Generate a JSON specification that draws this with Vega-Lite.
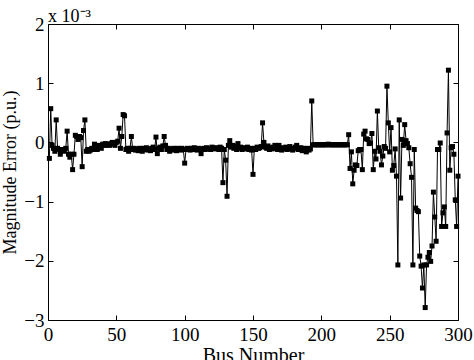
{
  "$schema": "https://vega.github.io/schema/vega-lite/v6.json",
  "width": 410,
  "height": 296,
  "autosize": "none",
  "padding": {"left": 48, "top": 24, "right": 16, "bottom": 40},
  "background": "white",
  "title": {"text": "x 10⁻³", "anchor": "start", "frame": "group", "font": "Liberation Serif", "fontSize": 18, "fontWeight": "normal", "color": "black", "offset": 3, "dy": 14},
  "config": {
    "view": {"stroke": "black", "strokeWidth": 1},
    "axis": {
      "domain": false, "grid": false, "ticks": true, "tickColor": "black", "tickSize": -5, "tickWidth": 1, "labelFlush": false,
      "labelFont": "Liberation Serif", "labelFontSize": 19, "labelColor": "black",
      "titleFont": "Liberation Serif", "titleFontSize": 19, "titleFontWeight": "normal", "titleColor": "black"
    }
  },
  "data": {"values": [
    {"bus":1,"err":-0.27},{"bus":2,"err":0.57},{"bus":3,"err":-0.05},{"bus":4,"err":-0.1},{"bus":5,"err":-0.15},
    {"bus":6,"err":0.38},{"bus":7,"err":-0.1},{"bus":8,"err":-0.12},{"bus":9,"err":-0.2},{"bus":10,"err":-0.13},
    {"bus":11,"err":-0.12},{"bus":12,"err":-0.15},{"bus":13,"err":-0.1},{"bus":14,"err":0.19},{"bus":15,"err":-0.2},
    {"bus":16,"err":-0.25},{"bus":17,"err":-0.2},{"bus":18,"err":-0.46},{"bus":19,"err":-0.2},{"bus":20,"err":0.12},
    {"bus":21,"err":0.1},{"bus":22,"err":0.05},{"bus":23,"err":0.1},{"bus":24,"err":0.08},{"bus":25,"err":-0.41},
    {"bus":26,"err":0.2},{"bus":27,"err":0.38},{"bus":28,"err":-0.15},{"bus":29,"err":-0.12},{"bus":30,"err":-0.15},
    {"bus":31,"err":-0.13},{"bus":32,"err":-0.1},{"bus":33,"err":-0.12},{"bus":34,"err":-0.03},{"bus":35,"err":-0.1},
    {"bus":36,"err":-0.12},{"bus":37,"err":-0.05},{"bus":38,"err":-0.07},{"bus":39,"err":-0.1},{"bus":40,"err":-0.03},
    {"bus":41,"err":-0.05},{"bus":42,"err":-0.02},{"bus":43,"err":-0.05},{"bus":44,"err":-0.03},{"bus":45,"err":-0.05},
    {"bus":46,"err":-0.02},{"bus":47,"err":0.0},{"bus":48,"err":-0.03},{"bus":49,"err":-0.05},{"bus":50,"err":0.0},
    {"bus":51,"err":0.02},{"bus":52,"err":0.24},{"bus":53,"err":-0.1},{"bus":54,"err":0.1},{"bus":55,"err":0.47},
    {"bus":56,"err":0.45},{"bus":57,"err":-0.12},{"bus":58,"err":-0.1},{"bus":59,"err":-0.15},{"bus":60,"err":-0.1},
    {"bus":61,"err":0.1},{"bus":62,"err":-0.12},{"bus":63,"err":-0.1},{"bus":64,"err":-0.13},{"bus":65,"err":-0.11},
    {"bus":66,"err":-0.14},{"bus":67,"err":-0.1},{"bus":68,"err":-0.12},{"bus":69,"err":-0.15},{"bus":70,"err":-0.1},
    {"bus":71,"err":-0.12},{"bus":72,"err":-0.09},{"bus":73,"err":-0.13},{"bus":74,"err":-0.11},{"bus":75,"err":-0.14},
    {"bus":76,"err":-0.1},{"bus":77,"err":-0.08},{"bus":78,"err":-0.12},{"bus":79,"err":0.09},{"bus":80,"err":-0.19},
    {"bus":81,"err":-0.1},{"bus":82,"err":-0.08},{"bus":83,"err":-0.12},{"bus":84,"err":-0.06},{"bus":85,"err":0.1},
    {"bus":86,"err":-0.05},{"bus":87,"err":-0.12},{"bus":88,"err":-0.1},{"bus":89,"err":-0.15},{"bus":90,"err":-0.11},
    {"bus":91,"err":-0.13},{"bus":92,"err":-0.1},{"bus":93,"err":-0.12},{"bus":94,"err":-0.14},{"bus":95,"err":-0.1},
    {"bus":96,"err":-0.11},{"bus":97,"err":-0.13},{"bus":98,"err":-0.1},{"bus":99,"err":-0.12},{"bus":100,"err":-0.35},
    {"bus":101,"err":-0.12},{"bus":102,"err":-0.1},{"bus":103,"err":-0.11},{"bus":104,"err":-0.13},{"bus":105,"err":-0.1},
    {"bus":106,"err":-0.12},{"bus":107,"err":-0.09},{"bus":108,"err":-0.11},{"bus":109,"err":-0.13},{"bus":110,"err":-0.1},
    {"bus":111,"err":-0.12},{"bus":112,"err":-0.19},{"bus":113,"err":-0.11},{"bus":114,"err":-0.1},{"bus":115,"err":-0.12},
    {"bus":116,"err":-0.09},{"bus":117,"err":-0.11},{"bus":118,"err":-0.1},{"bus":119,"err":-0.12},{"bus":120,"err":-0.08},
    {"bus":121,"err":-0.1},{"bus":122,"err":-0.11},{"bus":123,"err":-0.09},{"bus":124,"err":-0.1},{"bus":125,"err":-0.12},
    {"bus":126,"err":-0.08},{"bus":127,"err":-0.1},{"bus":128,"err":-0.68},{"bus":129,"err":-0.12},{"bus":130,"err":-0.3},
    {"bus":131,"err":-0.91},{"bus":132,"err":-0.05},{"bus":133,"err":0.03},{"bus":134,"err":-0.08},{"bus":135,"err":-0.05},
    {"bus":136,"err":-0.1},{"bus":137,"err":-0.06},{"bus":138,"err":-0.12},{"bus":139,"err":-0.02},{"bus":140,"err":-0.1},
    {"bus":141,"err":-0.08},{"bus":142,"err":-0.12},{"bus":143,"err":-0.09},{"bus":144,"err":-0.11},{"bus":145,"err":-0.1},
    {"bus":146,"err":-0.08},{"bus":147,"err":-0.12},{"bus":148,"err":-0.1},{"bus":149,"err":-0.13},{"bus":150,"err":-0.54},
    {"bus":151,"err":-0.1},{"bus":152,"err":-0.12},{"bus":153,"err":-0.08},{"bus":154,"err":-0.1},{"bus":155,"err":-0.09},
    {"bus":156,"err":-0.07},{"bus":157,"err":0.33},{"bus":158,"err":0.0},{"bus":159,"err":-0.08},{"bus":160,"err":-0.1},
    {"bus":161,"err":-0.06},{"bus":162,"err":-0.12},{"bus":163,"err":-0.09},{"bus":164,"err":-0.11},{"bus":165,"err":-0.08},
    {"bus":166,"err":-0.05},{"bus":167,"err":-0.1},{"bus":168,"err":-0.12},{"bus":169,"err":-0.05},{"bus":170,"err":-0.1},
    {"bus":171,"err":-0.13},{"bus":172,"err":-0.09},{"bus":173,"err":-0.11},{"bus":174,"err":-0.08},{"bus":175,"err":-0.12},
    {"bus":176,"err":-0.1},{"bus":177,"err":-0.07},{"bus":178,"err":-0.11},{"bus":179,"err":-0.13},{"bus":180,"err":-0.1},
    {"bus":181,"err":-0.08},{"bus":182,"err":-0.05},{"bus":183,"err":-0.12},{"bus":184,"err":-0.1},{"bus":185,"err":-0.09},
    {"bus":186,"err":-0.14},{"bus":187,"err":-0.1},{"bus":188,"err":-0.12},{"bus":189,"err":-0.16},{"bus":190,"err":-0.1},
    {"bus":191,"err":-0.13},{"bus":192,"err":-0.11},{"bus":193,"err":0.7},{"bus":194,"err":-0.04},{"bus":195,"err":-0.04},
    {"bus":196,"err":-0.04},{"bus":197,"err":-0.04},{"bus":198,"err":-0.04},{"bus":199,"err":-0.04},{"bus":200,"err":-0.04},
    {"bus":201,"err":-0.04},{"bus":202,"err":-0.04},{"bus":203,"err":-0.04},{"bus":204,"err":-0.04},{"bus":205,"err":-0.03},
    {"bus":206,"err":-0.04},{"bus":207,"err":-0.04},{"bus":208,"err":-0.04},{"bus":209,"err":-0.04},{"bus":210,"err":-0.04},
    {"bus":211,"err":-0.04},{"bus":212,"err":-0.04},{"bus":213,"err":-0.04},{"bus":214,"err":-0.04},{"bus":215,"err":-0.04},
    {"bus":216,"err":-0.04},{"bus":217,"err":-0.04},{"bus":218,"err":-0.04},{"bus":219,"err":-0.04},{"bus":220,"err":0.13},
    {"bus":221,"err":-0.44},{"bus":222,"err":-0.16},{"bus":223,"err":-0.7},{"bus":224,"err":-0.47},{"bus":225,"err":-0.38},
    {"bus":226,"err":-0.39},{"bus":227,"err":-0.14},{"bus":228,"err":-0.12},{"bus":229,"err":-0.12},{"bus":230,"err":-0.46},
    {"bus":231,"err":0.14},{"bus":232,"err":0.19},{"bus":233,"err":0.06},{"bus":234,"err":0.05},{"bus":235,"err":-0.02},
    {"bus":236,"err":-0.01},{"bus":237,"err":0.15},{"bus":238,"err":-0.46},{"bus":239,"err":-0.15},{"bus":240,"err":-0.28},
    {"bus":241,"err":0.53},{"bus":242,"err":-0.09},{"bus":243,"err":-0.15},{"bus":244,"err":-0.38},{"bus":245,"err":-0.23},
    {"bus":246,"err":-0.07},{"bus":247,"err":-0.1},{"bus":248,"err":0.95},{"bus":249,"err":0.33},{"bus":250,"err":-0.16},
    {"bus":251,"err":0.25},{"bus":252,"err":-0.47},{"bus":253,"err":-0.39},{"bus":254,"err":-0.11},{"bus":255,"err":-0.57},
    {"bus":256,"err":-2.07},{"bus":257,"err":0.38},{"bus":258,"err":-0.94},{"bus":259,"err":0.05},{"bus":260,"err":-0.05},
    {"bus":261,"err":0.3},{"bus":262,"err":0.03},{"bus":263,"err":-0.02},{"bus":264,"err":-0.09},{"bus":265,"err":-0.36},
    {"bus":266,"err":-0.59},{"bus":267,"err":-2.07},{"bus":268,"err":-0.12},{"bus":269,"err":-1.11},{"bus":270,"err":-1.15},
    {"bus":271,"err":-1.17},{"bus":272,"err":-1.92},{"bus":273,"err":-2.09},{"bus":274,"err":-2.46},{"bus":275,"err":-2.07},
    {"bus":276,"err":-2.79},{"bus":277,"err":-2.07},{"bus":278,"err":-1.94},{"bus":279,"err":-1.86},{"bus":280,"err":-2.01},
    {"bus":281,"err":-1.75},{"bus":282,"err":-0.84},{"bus":283,"err":-1.26},{"bus":284,"err":-1.67},{"bus":285,"err":-0.12},
    {"bus":286,"err":-0.12},{"bus":287,"err":-0.01},{"bus":288,"err":-1.42},{"bus":289,"err":-1.19},{"bus":290,"err":-1.09},
    {"bus":291,"err":-1.42},{"bus":292,"err":0.16},{"bus":293,"err":1.22},{"bus":294,"err":-0.47},{"bus":295,"err":-0.09},
    {"bus":296,"err":-0.07},{"bus":297,"err":-0.2},{"bus":298,"err":-0.97},{"bus":299,"err":-1.42},{"bus":300,"err":-0.57}
  ]},
  "layer": [
    {
      "mark": {"type": "line", "color": "black", "strokeWidth": 1, "point": {"shape": "square", "filled": true, "size": 25, "color": "black"}},
      "encoding": {
        "x": {"field": "bus", "type": "quantitative", "scale": {"domain": [0, 300], "nice": false},
              "axis": {"title": "Bus Number", "values": [0, 50, 100, 150, 200, 250, 300], "labelPadding": 10, "titlePadding": 1, "titleFontSize": 20}},
        "y": {"field": "err", "type": "quantitative", "scale": {"domain": [-3, 2], "nice": false},
              "axis": {"title": "Magnitude Error (p.u.)", "values": [-3, -2, -1, 0, 1, 2], "labelPadding": 9, "titlePadding": 4, "titleFontSize": 18}}
      }
    },
    {
      "mark": {"type": "point", "opacity": 0},
      "encoding": {
        "x": {"field": "bus", "type": "quantitative", "scale": {"domain": [0, 300], "nice": false},
              "axis": {"orient": "top", "title": null, "labels": false, "values": [0, 50, 100, 150, 200, 250, 300]}},
        "y": {"field": "err", "type": "quantitative", "scale": {"domain": [-3, 2], "nice": false},
              "axis": {"orient": "right", "title": null, "labels": false, "values": [-3, -2, -1, 0, 1, 2]}}
      }
    }
  ],
  "resolve": {"axis": {"x": "independent", "y": "independent"}}
}
